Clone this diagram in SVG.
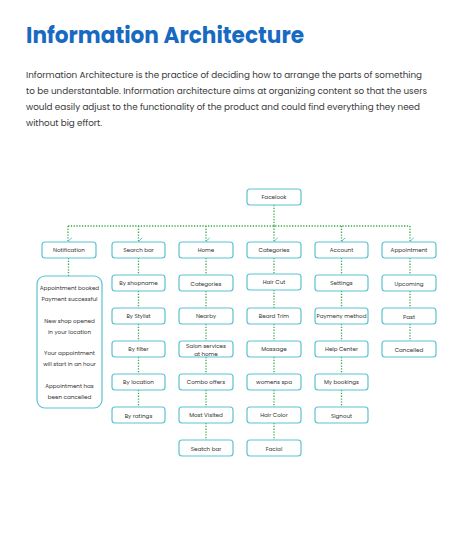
<svg xmlns="http://www.w3.org/2000/svg" width="474" height="543" viewBox="0 0 474 543">
<defs>
<marker id="chev" markerWidth="8" markerHeight="6" refX="4" refY="5" orient="auto-start-reverse" markerUnits="userSpaceOnUse" viewBox="0 0 8 6">
<path d="M0.8,1.2 L4,4.8 L7.2,1.2" fill="none" stroke="#5cc3d3" stroke-width="1"/>
</marker>
</defs>
<style>
.t{font-family:"Poppins","Open Sans","Liberation Sans",sans-serif}
.title{font-size:23px;font-weight:700;fill:#1769c2}
.body{font-size:8.8px;fill:#3a3a3a}
.box{fill:#fff;stroke:#5cc3d3;stroke-width:1.2}
.lbl{font-size:5.6px;fill:#333;text-anchor:middle}
.con{fill:none;stroke:#3daa4a;stroke-width:1.3;stroke-dasharray:1.3 1.5}
</style>
<rect width="474" height="543" fill="#fff"/>
<text class="t title" x="26" y="43" textLength="278" lengthAdjust="spacingAndGlyphs">Information Architecture</text>
<text class="t body" x="26" y="78" textLength="396" lengthAdjust="spacing">Information Architecture is the practice of deciding how to arrange the parts of something</text>
<text class="t body" x="26" y="94" textLength="401" lengthAdjust="spacing">to be understantable. Information architecture aims at organizing content so that the users</text>
<text class="t body" x="26" y="110" textLength="394" lengthAdjust="spacing">would easily adjust to the functionality of the product and could find everything they need</text>
<text class="t body" x="26" y="126" textLength="76" lengthAdjust="spacing">without big effort.</text>

<g id="connectors">
<path class="con" d="M274,205 V226"/>
<path class="con" d="M68,226 H410"/>
<path class="con" d="M68,226 V241" marker-end="url(#chev)"/>
<path class="con" d="M138.5,226 V241" marker-end="url(#chev)"/>
<path class="con" d="M206,226 V241" marker-end="url(#chev)"/>
<path class="con" d="M274,226 V241" marker-end="url(#chev)"/>
<path class="con" d="M341.5,226 V241" marker-end="url(#chev)"/>
<path class="con" d="M410,226 V241" marker-end="url(#chev)"/>
<path class="con" d="M68.5,258 V276"/>
<path class="con" d="M138.5,258 V275 M138.5,291 V308 M138.5,324 V341 M138.5,357 V374 M138.5,390 V407"/>
<path class="con" d="M206,258 V275 M206,291 V308 M206,324 V341 M206,357 V374 M206,390 V407 M206,423 V440"/>
<path class="con" d="M274,258 V274 M274,290 V308 M274,324 V341 M274,357 V374 M274,390 V407 M274,423 V440"/>
<path class="con" d="M341.5,258 V275 M341.5,291 V308 M341.5,324 V341 M341.5,357 V374 M341.5,390 V407"/>
<path class="con" d="M410,258 V275 M410,291 V308 M410,324 V341"/>
</g>

<g id="facebook"><rect class="box" x="247" y="189" width="54" height="16" rx="3"/><text class="t lbl" x="274" y="199">Facelook</text></g>

<g id="notification"><rect class="box" x="42" y="242" width="54" height="16" rx="3"/><text class="t lbl" x="69" y="252">Notification</text></g>
<g id="search-bar"><rect class="box" x="112" y="242" width="53" height="16" rx="3"/><text class="t lbl" x="138.5" y="252">Search bar</text></g>
<g id="home"><rect class="box" x="179" y="242" width="54" height="16" rx="3"/><text class="t lbl" x="206" y="252">Home</text></g>
<g id="categories"><rect class="box" x="247" y="242" width="54" height="16" rx="3"/><text class="t lbl" x="274" y="252">Categories</text></g>
<g id="account"><rect class="box" x="315" y="242" width="53" height="16" rx="3"/><text class="t lbl" x="341.5" y="252">Account</text></g>
<g id="appointment"><rect class="box" x="382" y="242" width="54" height="16" rx="3"/><text class="t lbl" x="409" y="252">Appointment</text></g>

<g id="notification-list"><rect class="box" x="37" y="276" width="65" height="132" rx="8"/>
<text class="t lbl" x="69.5" y="290">Appointment booked</text>
<text class="t lbl" x="69.5" y="301">Payment successful</text>
<text class="t lbl" x="69.5" y="323">New shop opened</text>
<text class="t lbl" x="69.5" y="334">in your location</text>
<text class="t lbl" x="69.5" y="355">Your appointment</text>
<text class="t lbl" x="69.5" y="366">will start in an hour</text>
<text class="t lbl" x="69.5" y="388">Appointment has</text>
<text class="t lbl" x="69.5" y="399">been cancelled</text>
</g>

<g id="by-shopname"><rect class="box" x="112" y="275" width="53" height="16" rx="3"/><text class="t lbl" x="138.5" y="285">By shopname</text></g>
<g id="by-stylist"><rect class="box" x="112" y="308" width="53" height="16" rx="3"/><text class="t lbl" x="138.5" y="318">By Stylist</text></g>
<g id="by-filter"><rect class="box" x="112" y="341" width="53" height="16" rx="3"/><text class="t lbl" x="138.5" y="351">By filter</text></g>
<g id="by-location"><rect class="box" x="112" y="374" width="53" height="16" rx="3"/><text class="t lbl" x="138.5" y="384">By location</text></g>
<g id="by-ratings"><rect class="box" x="112" y="407" width="53" height="16" rx="3"/><text class="t lbl" x="138.5" y="417.5">By ratings</text></g>

<g id="home-categories"><rect class="box" x="179" y="275" width="54" height="16" rx="3"/><text class="t lbl" x="206" y="286">Categories</text></g>
<g id="nearby"><rect class="box" x="179" y="308" width="54" height="16" rx="3"/><text class="t lbl" x="206" y="318">Nearby</text></g>
<g id="salon-services"><rect class="box" x="179" y="341" width="54" height="16" rx="3"/><text class="t lbl" x="206" y="347.5">Salon services</text><text class="t lbl" x="206" y="355.5">at home</text></g>
<g id="combo-offers"><rect class="box" x="179" y="374" width="54" height="16" rx="3"/><text class="t lbl" x="206" y="384">Combo offers</text></g>
<g id="most-visited"><rect class="box" x="179" y="407" width="54" height="16" rx="3"/><text class="t lbl" x="206" y="417">Most Visited</text></g>
<g id="seatch-bar"><rect class="box" x="179" y="440" width="54" height="16" rx="3"/><text class="t lbl" x="206" y="450.5">Seatch bar</text></g>

<g id="hair-cut"><rect class="box" x="247" y="274" width="54" height="16" rx="3"/><text class="t lbl" x="274" y="284">Hair Cut</text></g>
<g id="beard-trim"><rect class="box" x="247" y="308" width="54" height="16" rx="3"/><text class="t lbl" x="274" y="318">Beard Trim</text></g>
<g id="massage"><rect class="box" x="247" y="341" width="54" height="16" rx="3"/><text class="t lbl" x="274" y="351">Massage</text></g>
<g id="womens-spa"><rect class="box" x="247" y="374" width="54" height="16" rx="3"/><text class="t lbl" x="274" y="384">womens spa</text></g>
<g id="hair-color"><rect class="box" x="247" y="407" width="54" height="16" rx="3"/><text class="t lbl" x="274" y="417">Hair Color</text></g>
<g id="facial"><rect class="box" x="247" y="440" width="54" height="16" rx="3"/><text class="t lbl" x="274" y="450.5">Facial</text></g>

<g id="settings"><rect class="box" x="315" y="275" width="53" height="16" rx="3"/><text class="t lbl" x="341.5" y="285">Settings</text></g>
<g id="paymeny-method"><rect class="box" x="315" y="308" width="53" height="16" rx="3"/><text class="t lbl" x="341.5" y="318">Paymeny method</text></g>
<g id="help-center"><rect class="box" x="315" y="341" width="53" height="16" rx="3"/><text class="t lbl" x="341.5" y="351">Help Center</text></g>
<g id="my-bookings"><rect class="box" x="315" y="374" width="53" height="16" rx="3"/><text class="t lbl" x="341.5" y="384">My bookings</text></g>
<g id="signout"><rect class="box" x="315" y="407" width="53" height="16" rx="3"/><text class="t lbl" x="341.5" y="417.5">Signout</text></g>

<g id="upcoming"><rect class="box" x="382" y="275" width="54" height="16" rx="3"/><text class="t lbl" x="409" y="285.5">Upcoming</text></g>
<g id="past"><rect class="box" x="382" y="308" width="54" height="16" rx="3"/><text class="t lbl" x="409" y="318.5">Past</text></g>
<g id="cancelled"><rect class="box" x="382" y="341" width="54" height="16" rx="3"/><text class="t lbl" x="409" y="351.5">Cancelled</text></g>
</svg>
